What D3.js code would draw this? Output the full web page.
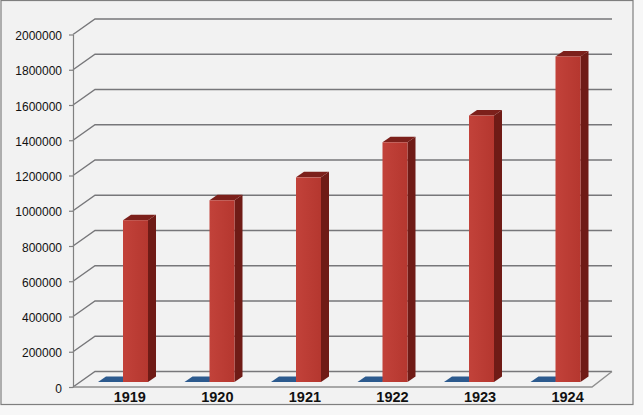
<!DOCTYPE html>
<html>
<head>
<meta charset="utf-8">
<script src="https://cdnjs.cloudflare.com/ajax/libs/d3/7.8.5/d3.min.js"></script>
<style>
html, body { margin: 0; padding: 0; background: #f7f7f7; }
svg { display: block; }
</style>
</head>
<body>
<script>
const years = ["1919", "1920", "1921", "1922", "1923", "1924"];
const redValues = [918000, 1031000, 1161000, 1360000, 1512000, 1847000];
const blueValues = [0, 0, 0, 0, 0, 0];
const yTicks = [0, 200000, 400000, 600000, 800000, 1000000, 1200000, 1400000, 1600000, 1800000, 2000000];

const width = 643, height = 415;
const svg = d3.select("body").append("svg")
    .attr("width", width)
    .attr("height", height);

const defs = svg.append("defs");
const redGrad = defs.append("linearGradient").attr("id", "redFront");
redGrad.append("stop").attr("offset", "0%").attr("stop-color", "#c2423a");
redGrad.append("stop").attr("offset", "100%").attr("stop-color", "#b5372f");

// chart frame
svg.append("rect")
    .attr("x", 1).attr("y", 0.5)
    .attr("width", 632).attr("height", 404)
    .attr("fill", "#f2f2f2")
    .attr("stroke", "#7f7f7f")
    .attr("stroke-width", 1.2);

const y = d3.scaleLinear().domain([0, 2000000]).range([387, 34.5]);
const x = d3.scaleBand().domain(years).range([73, 592]);
const xLabels = d3.scaleBand().domain(years).range([86, 611.4]);

// depth of the 3d floor and walls
const depthX = 20, depthXLeft = 22, depthY = -15.5;

// back wall grid lines and their slanted part on the side wall
const grid = svg.append("g");
grid.selectAll("path")
    .data(yTicks)
    .enter().append("path")
    .attr("d", d => "M73," + y(d) + "L" + (73 + depthXLeft) + "," + (y(d) + depthY) + "L" + (592 + depthX) + "," + (y(d) + depthY))
    .attr("fill", "none")
    .attr("stroke", "#77777a")
    .attr("stroke-width", 1.4);

// floor front and right edge
svg.append("path")
    .attr("d", "M73," + y(0) + "L592," + y(0) + "L" + (592 + depthX) + "," + (y(0) + depthY))
    .attr("fill", "none")
    .attr("stroke", "#8f8f8f")
    .attr("stroke-width", 1.4);

const yAxis = d3.axisLeft(y)
    .tickValues(yTicks)
    .tickFormat(d3.format("d"))
    .tickSize(4)
    .tickPadding(7)
    .tickSizeOuter(0);
const yG = svg.append("g")
    .attr("transform", "translate(73,0)")
    .call(yAxis);
yG.selectAll("path, line").attr("stroke", "#808080").attr("stroke-width", 1.2);
yG.selectAll("text")
    .attr("dy", "0.42em")
    .attr("fill", "#111")
    .style("font-family", "'Liberation Sans', Arial, sans-serif")
    .style("font-size", "12px");

const xAxis = d3.axisBottom(xLabels).tickSize(0).tickPadding(5);
const xG = svg.append("g")
    .attr("transform", "translate(0,387)")
    .call(xAxis);
xG.select("path").remove();
xG.selectAll("text")
    .attr("fill", "#111")
    .style("font-family", "'Liberation Sans', Arial, sans-serif")
    .style("font-size", "14.5px")
    .style("font-weight", "bold");

// bars stand a little back from the front edge of the floor
const barBack = 5;
const barW = 25, barDX = 8, barDY = -5.5;
const barX = d => x(d) + 50;
const yBar = v => y(v) - barBack;

const blue = svg.append("g").selectAll("g")
    .data(years)
    .enter().append("g");
blue.append("path")
    .attr("d", (d, i) => {
        const l = barX(d) - barW, t = yBar(blueValues[i]);
        return "M" + l + "," + t + "L" + (l + barW) + "," + t + "L" + (l + barW + barDX) + "," + (t + barDY) + "L" + (l + barDX) + "," + (t + barDY) + "Z";
    })
    .attr("fill", "#2c5a8e");

const red = svg.append("g").selectAll("g")
    .data(years)
    .enter().append("g");
red.append("path")
    .attr("d", (d, i) => {
        const l = barX(d) + barW, t = yBar(redValues[i]), b = yBar(0);
        return "M" + l + "," + t + "L" + (l + barDX) + "," + (t + barDY) + "L" + (l + barDX) + "," + (b + barDY) + "L" + l + "," + b + "Z";
    })
    .attr("fill", "#6f1b16");
red.append("path")
    .attr("d", (d, i) => {
        const l = barX(d), t = yBar(redValues[i]);
        return "M" + l + "," + t + "L" + (l + barW) + "," + t + "L" + (l + barW + barDX) + "," + (t + barDY) + "L" + (l + barDX) + "," + (t + barDY) + "Z";
    })
    .attr("fill", "#7c201b");
red.append("rect")
    .attr("x", d => barX(d))
    .attr("y", (d, i) => yBar(redValues[i]))
    .attr("width", barW)
    .attr("height", (d, i) => yBar(0) - yBar(redValues[i]))
    .attr("fill", "url(#redFront)");
</script>
</body>
</html>
